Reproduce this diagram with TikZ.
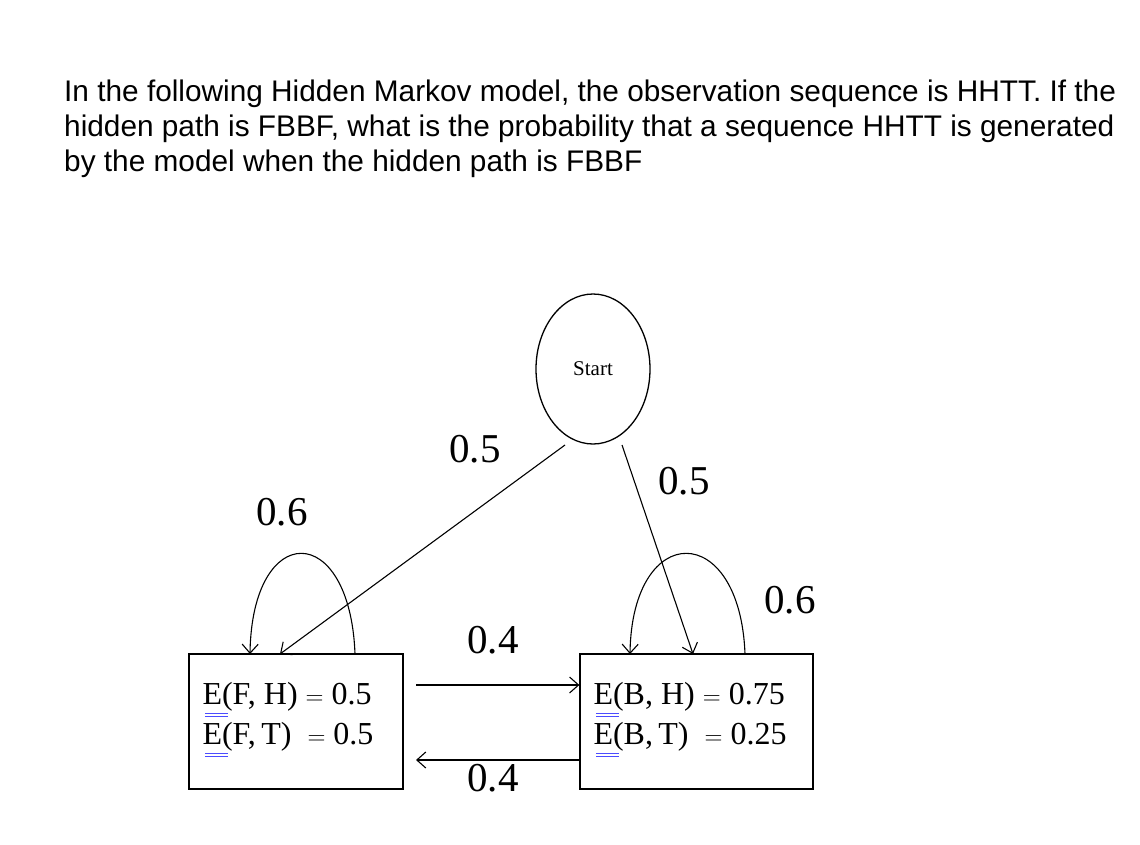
\documentclass[tikz,border=0pt]{standalone}
\usepackage{fontspec}
\setmainfont{Liberation Serif}
\newfontfamily\hdr{Liberation Sans}
\usetikzlibrary{arrows.meta,shapes.geometric}
\begin{document}
\begin{tikzpicture}[x=1pt,y=-1pt,
  box/.style={draw,line width=1.3pt,minimum width=#1,minimum height=135pt,inner sep=0pt},
  arr/.style={line width=1.1pt,-{Straight Barb[length=9pt,width=16pt]}},
  lbl/.style={font=\fontsize{41}{44}\selectfont},
  em/.style={font=\fontsize{32}{38}\selectfont,align=left,anchor=west},
  ul/.style={draw=blue!70,line width=1pt}]
\useasboundingbox (0,0) rectangle (1140,844);
\node[anchor=north west,align=left,inner sep=0pt,font=\hdr\fontsize{29.8}{35}\selectfont] (q) at (64,80)
 {In the following Hidden Markov model, the observation sequence is HHTT. If the\\
  hidden path is FBBF, what is the probability that a sequence HHTT is generated\\
  by the model when the hidden path is FBBF};
\node[box=214pt] (F) at (296,721.5) {};
\node[box=233pt] (B) at (696.5,721.5) {};
\node[draw,ellipse,line width=1.3pt,minimum width=114pt,minimum height=150pt,inner sep=0pt,font=\fontsize{21}{24}\selectfont] (S) at (593,369) {Start};
\node[em] (f1) at (199,697) {E(F, H) $=$ 0.5};
\node[em] (f2) at (199,737) {E(F,\,T) \ $=$ 0.5};
\node[em] (b1) at (590,697) {E(B, H) $=$ 0.75};
\node[em] (b2) at (590,737) {E(B,\,T) \ $=$ 0.25};
\foreach \x/\y in {205/713,205/753,596/713,596/753}{
  \draw[ul] (\x,\y) -- ++(23,0); \draw[ul] (\x,\y+3) -- ++(23,0);}
\coordinate (s1) at (565,445); \coordinate (s2) at (622,445);
\draw[arr] (s1) -- (280,654);
\draw[arr] (s2) -- (693,654);
\draw[arr] (355,654) .. controls (350,520) and (252,520) .. (250,654);
\draw[arr] (745,654) .. controls (740,520) and (632,520) .. (630,654);
\draw[arr] (416,685) -- (B.west |- 0,685);
\draw[arr] (B.west |- 0,760) -- (416,760);
\node[lbl] (l1) at (282,512) {0.6};
\node[lbl] (l2) at (475,449) {0.5};
\node[lbl] (l3) at (684,481) {0.5};
\node[lbl] (l4) at (790,600) {0.6};
\node[lbl] (l5) at (493,640) {0.4};
\node[lbl] (l6) at (493,778) {0.4};
\end{tikzpicture}
\end{document}
